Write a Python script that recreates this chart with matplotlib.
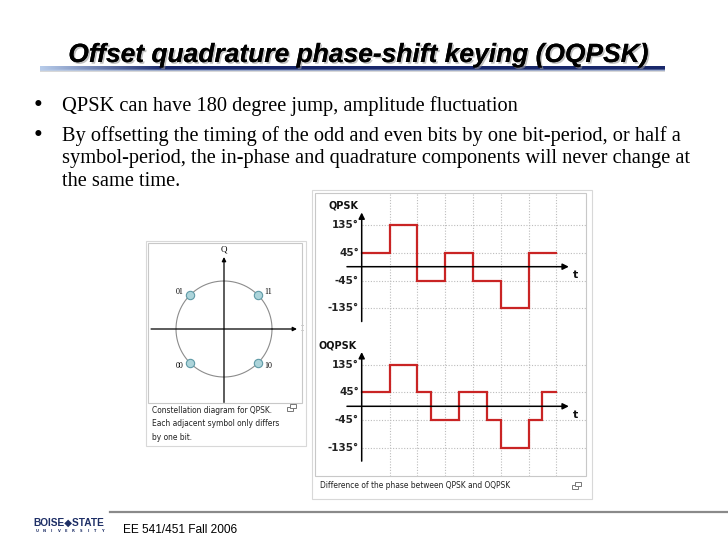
import numpy as np
import matplotlib
matplotlib.use("Agg")
import matplotlib.pyplot as plt
import matplotlib.patheffects as pe
from matplotlib.patches import Rectangle

W, H = 728, 546

# slide text
title = "Offset quadrature phase-shift keying (OQPSK)"
bullets = [
    ["QPSK can have 180 degree jump, amplitude fluctuation"],
    ["By offsetting the timing of the odd and even bits by one bit-period, or half a",
     "symbol-period, the in-phase and quadrature components will never change at",
     "the same time."],
]
footer = "EE 541/451 Fall 2006"

# constellation data
const_angles = [45, 135, 225, 315]
const_labels = ["11", "01", "00", "10"]
const_caption = ["Constellation diagram for QPSK.",
                 "Each adjacent symbol only differs",
                 "by one bit."]

# phase vs time (step edges in symbol periods, phase in degrees)
qpsk_t = [0, 1, 2, 3, 4, 5, 6, 7]
qpsk_phase = [45, 135, -45, 45, -45, -135, 45]
oqpsk_t = [0, 1, 2, 2.5, 3.5, 4.5, 5, 6, 6.5, 7]
oqpsk_phase = [45, 135, 45, -45, 45, -45, -135, -45, 45]
phase_ticks = [135, 45, -45, -135]
phase_caption = "Difference of the phase between QPSK and OQPSK"


def fx(x):
    return x / W


def fy(y):
    return 1 - y / H


def px_axes(x0, y0, x1, y1):
    a = fig.add_axes([fx(x0), fy(y1), (x1 - x0) / W, (y1 - y0) / H])
    a.set_axis_off()
    return a


def frame(x0, y0, x1, y1, color):
    fig.patches.append(Rectangle((fx(x0), fy(y1)), (x1 - x0) / W, (y1 - y0) / H,
                                 transform=fig.transFigure, fill=False,
                                 edgecolor=color, lw=0.8))


def icon(x, y):
    for dx, dy in [(0, 3), (3, 0)]:
        fig.patches.append(Rectangle((fx(x + dx), fy(y + dy + 4)), 6 / W, 4 / H,
                                     transform=fig.transFigure, facecolor="white",
                                     edgecolor="#777777", lw=0.7))


fig = plt.figure(figsize=(W / 100, H / 100), dpi=100)
fig.patch.set_facecolor("white")

# title + gradient rule
fig.text(fx(358), fy(62), title, ha="center", va="baseline",
         family="Liberation Sans", weight="bold", style="italic", size=19,
         color="black",
         path_effects=[pe.withSimplePatchShadow(offset=(1.2, -1.2),
                                                shadow_rgbFace="#999999", alpha=0.6),
                       pe.Normal()])
rule = px_axes(40, 66, 665, 72)
n = 400
c_light = np.array([0.72, 0.80, 0.92])
c_dark = np.array([0.10, 0.16, 0.42])
mix = np.clip(np.linspace(0, 1, n) / 0.2, 0, 1)[:, None]
dark_row = c_light * (1 - mix) + c_dark * mix
light_row = c_light * (1 - mix) + np.array([0.55, 0.62, 0.78]) * mix
grad = np.stack([dark_row, dark_row, dark_row, light_row, light_row * 0 + 0.85])
rule.imshow(grad, aspect="auto", interpolation="bilinear")

# bullets
line_y = 110.7
for group in bullets:
    fig.text(fx(38), fy(line_y + 1.5), "\u2022", ha="center", va="baseline",
             family="Liberation Serif", size=18, color="black")
    for line in group:
        fig.text(fx(62), fy(line_y), line, ha="left", va="baseline",
                 family="Liberation Serif", size=14.7, color="black")
        line_y += 22.3
    line_y += 8

# constellation panel
frame(146, 241, 306, 446, "#d8d8d8")
frame(148, 243, 302, 403, "#c8c8c8")
R, cx, cy = 48, 224, 329
axc = px_axes(148, 243, 302, 403)
axc.set_xlim((148 - cx) / R, (302 - cx) / R)
axc.set_ylim((cy - 403) / R, (cy - 243) / R)
ang = np.linspace(0, 2 * np.pi, 200)
axc.plot(np.cos(ang), np.sin(ang), color="#8c8c8c", lw=0.8)
arrow = dict(arrowstyle="-|>", color="black", lw=0.9, mutation_scale=6,
             shrinkA=0, shrinkB=0)
axc.annotate("", xy=(1.52, 0), xytext=(-1.52, 0), arrowprops=arrow)
axc.annotate("", xy=(0, 1.5), xytext=(0, -1.53), arrowprops=arrow)
axc.text(1.6, 0, "I", ha="left", va="center", family="Liberation Serif",
         size=6.5, clip_on=False)
axc.text(0, 1.66, "Q", ha="center", va="center", family="Liberation Serif", size=6.5)
for a, lab in zip(const_angles, const_labels):
    px_, py_ = np.cos(np.radians(a)), np.sin(np.radians(a))
    axc.plot(px_, py_, "o", ms=6, mfc="#acd4da", mec="#5f9aa6", mew=0.8)
    axc.text(px_ + np.sign(px_) * 0.13, py_ + np.sign(py_) * 0.07, lab,
             ha="left" if px_ > 0 else "right", va="center",
             family="Liberation Serif", size=5.8)
for i, line in enumerate(const_caption):
    fig.text(fx(152), fy(413 + i * 13.5), line, ha="left", va="baseline",
             family="DejaVu Sans", size=5.45, color="#222222")
icon(287, 404)

# phase panels
frame(312, 190, 592, 499, "#d8d8d8")
frame(315, 193, 586, 476, "#c8c8c8")
T_PX, X0, DEG_PX = 27.8, 361.7, 0.308
panels = [
    (193, 334, 266.7, "QPSK", qpsk_t, qpsk_phase),
    (334, 476, 406.3, "OQPSK", oqpsk_t, oqpsk_phase),
]
for top, bot, zero, name, tt, ph in panels:
    ax = px_axes(315, top, 586, bot)
    ax.set_xlim((315 - X0) / T_PX, (586 - X0) / T_PX)
    ax.set_ylim((zero - bot) / DEG_PX, (zero - top) / DEG_PX)
    ylo, yhi = ax.get_ylim()
    for k in range(1, 8):
        ax.plot([k, k], [ylo, yhi], color="#bcbcbc", lw=0.8, ls=(0, (1, 1.5)))
    for d in phase_ticks:
        ax.plot([0, ax.get_xlim()[1]], [d, d], color="#bcbcbc", lw=0.8,
                ls=(0, (1, 1.5)))
        ax.text(-0.1, d, "%d\u00b0" % d, ha="right", va="center",
                family="DejaVu Sans", weight="bold", size=7.5, color="#222222")
    ax.step(tt, ph + [ph[-1]], where="post", color="#c92424", lw=1.6,
            solid_joinstyle="miter")
    arr = dict(arrowstyle="-|>", color="black", lw=1.1, mutation_scale=9,
               shrinkA=0, shrinkB=0)
    ax.annotate("", xy=(7.45, 0), xytext=(-0.53, 0), arrowprops=arr)
    ax.annotate("", xy=(0, 176), xytext=(0, -178), arrowprops=arr)
    ax.text(-1.55 if name == "OQPSK" else -1.2, 198, name, ha="left", va="center",
            family="DejaVu Sans", weight="bold", size=7, color="#111111")
    ax.text(7.6, -28, "t", ha="left", va="center", family="DejaVu Sans",
            weight="bold", size=8, color="#111111")
fig.text(fx(320), fy(488), phase_caption, ha="left", va="baseline",
         family="DejaVu Sans", size=5.45, color="#222222")
icon(572, 482)

# footer
fig.add_artist(plt.Line2D([fx(110), fx(728)], [fy(511.5), fy(511.5)],
                          color="#8a8a8a", lw=1.6, transform=fig.transFigure))
fig.text(fx(123), fy(533), footer, ha="left", va="baseline",
         family="Liberation Sans", size=8.6, color="black")
fig.text(fx(69), fy(526), "BOISE\u25c6STATE", ha="center", va="baseline",
         family=["Liberation Sans", "DejaVu Sans"], weight="bold", size=7.3,
         color="#1e2f66")
for i, ch in enumerate("UNIVERSITY"):
    fig.text(fx(37 + i * 7.3), fy(532), ch, ha="center", va="baseline",
             family="DejaVu Sans", weight="bold", size=2.6, color="#1e2f66")

fig.savefig("out.png", dpi=100, facecolor="white")
